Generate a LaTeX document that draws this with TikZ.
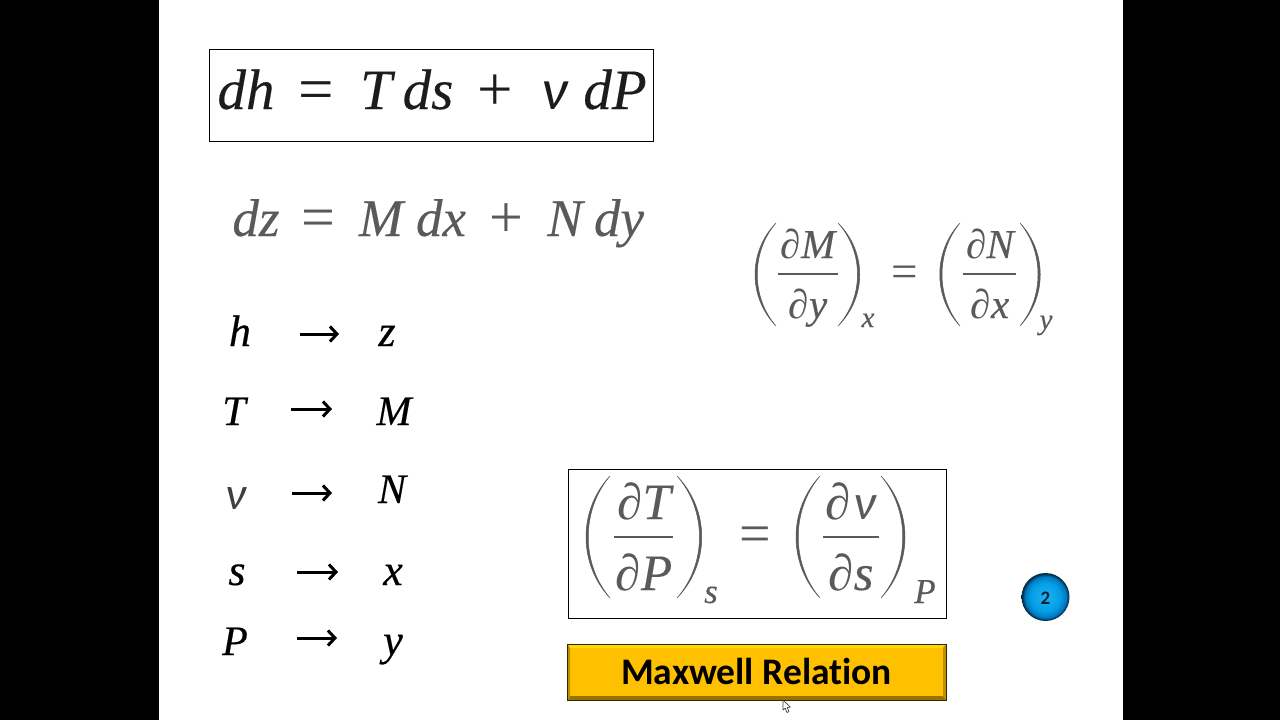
\documentclass[tikz,border=0pt]{standalone}
\usepackage{fontspec}
\setmainfont[ItalicFeatures={FakeBold=0.2}]{Liberation Serif}
\newfontfamily\listfont[FakeBold=0.35]{Liberation Serif}
\newfontfamily\nufont{Carlito}
\newfontfamily\btnfont[Ligatures=CommonOff]{Carlito}
\usetikzlibrary{arrows.meta,calc,shadings}
\definecolor{eqblack}{HTML}{1C1C1C}
\definecolor{eqgrey}{HTML}{5A5A5A}
\definecolor{gold}{HTML}{FFC000}
\definecolor{ballA}{HTML}{1FB0F2}
\definecolor{ballB}{HTML}{049FE6}
\definecolor{ballC}{HTML}{0078C0}
\definecolor{ballD}{HTML}{06304C}
\definecolor{ballText}{HTML}{0A2238}
\pgfdeclareradialshading{ballshade}{\pgfpoint{0bp}{0bp}}{
  color(0bp)=(ballA); color(15bp)=(ballB); color(21.5bp)=(ballC); color(24bp)=(ballD); color(50bp)=(ballD)}
\newcommand{\sz}[1]{\fontsize{#1}{#1}\selectfont}
\tikzset{
  tok/.style={anchor=base,inner sep=0pt,outer sep=0pt},
  eqa/.style={tok,text=eqblack,font=\sz{57}\itshape},
  eqb/.style={tok,text=eqgrey,font=\sz{53}\itshape},
  eqbup/.style={tok,text=eqgrey,font=\sz{60}},
  eqaup/.style={tok,text=eqblack,font=\sz{63}},
  frs/.style={tok,text=eqgrey,font=\sz{41}\itshape},
  frb/.style={tok,text=eqgrey,font=\sz{51}\itshape},
  subs/.style={tok,text=eqgrey,font=\sz{29}\itshape},
  subb/.style={tok,text=eqgrey,font=\sz{35}\itshape},
  rowtext/.style={tok,text=black,font=\sz{44}\listfont\itshape},
  rowcap/.style={tok,text=black,font=\sz{42}\listfont\itshape},
  nuglyph/.style={tok,font=\nufont\itshape},
  maparrow/.style={draw=black,line width=3pt,line cap=butt,-{Straight Barb[length=7pt,width=15pt]}},
  framebox/.style={draw=black,line width=1pt,fill=white},
  frule/.style={draw=eqgrey,line width=1.5pt},
  parenfill/.style={fill=eqgrey,draw=eqgrey,line width=0.5pt,line join=round},
}
% tapered parentheses: tip x, belly control x (left), tip x, belly control x (right), y top, y bottom
\newcommand{\parenpair}[6]{%
  \filldraw[parenfill] (#1,#5) .. controls (#2,{#5+0.28*(#6-#5)}) and (#2,{#5+0.72*(#6-#5)}) .. (#1,#6)
     .. controls ({#2+3},{#5+0.72*(#6-#5)}) and ({#2+3},{#5+0.28*(#6-#5)}) .. (#1,#5) -- cycle;
  \filldraw[parenfill] (#3,#5) .. controls (#4,{#5+0.28*(#6-#5)}) and (#4,{#5+0.72*(#6-#5)}) .. (#3,#6)
     .. controls ({#4-3},{#5+0.72*(#6-#5)}) and ({#4-3},{#5+0.28*(#6-#5)}) .. (#3,#5) -- cycle;}
\begin{document}
\begin{tikzpicture}[x=1pt,y=-1pt]
\useasboundingbox (0,0) rectangle (1280,720);
\fill[black] (0,0) rectangle (1280,720);
\fill[white] (158.5,0) rectangle (1123,720);

% top equation
\node[framebox,minimum width=444.5pt,minimum height=92pt,inner sep=0pt,anchor=north west] (topbox) at (208.5,48.8) {};
\node[eqa] (dh) at (246,109) {dh};
\node[eqaup] (eq1) at (316,110.5) {=};
\node[eqa] (T1) at (376,109) {T};
\node[eqa] (ds1) at (428,109) {ds};
\node[eqaup] (pl1) at (495,110.5) {+};
\node[nuglyph,text=eqblack,font=\sz{58}\nufont\itshape] (nu1) at (555,109) {ν};
\node[eqa] (dP1) at (615,109) {dP};

% second equation
\node[eqb] (dz) at (256,236) {dz};
\node[eqbup] (eq2) at (318,237.5) {=};
\node[eqb] (M2) at (381,236) {M};
\node[eqb] (dx2) at (441,236) {dx};
\node[eqbup] (pl2) at (506,237.5) {+};
\node[eqb] (N2) at (565,236) {N};
\node[eqb] (dy2) at (619,236) {dy};

% right upper relation
\parenpair{776}{748}{838}{867}{223}{326}
\node[frs] (dM) at (808,258) {\upshape∂\itshape M};
\draw[frule] (778,274) -- (838,274);
\node[frs] (dy3) at (808,318) {\upshape∂\itshape y};
\node[subs] (subx) at (868,327) {x};
\node[tok,text=eqgrey,font=\sz{47}] (eq3) at (905,287) {=};
\parenpair{960}{933}{1020}{1047}{223}{326}
\node[frs] (dN) at (990,258) {\upshape∂\itshape N};
\draw[frule] (963,274) -- (1016,274);
\node[frs] (dx3) at (990,318) {\upshape∂\itshape x};
\node[subs] (suby) at (1046,329) {y};

% mapping list
\node[rowtext] (h) at (240,346) {h};
\node[rowtext] (z) at (387,346) {z};
\node[rowcap] (T) at (234,425) {T};
\node[rowcap] (M) at (394,425) {M};
\node[nuglyph,text=eqgrey!70!black,font=\sz{46}\nufont\itshape] (nu) at (236,509) {ν};
\node[rowcap] (N) at (392,503) {N};
\node[rowtext] (s) at (237,585) {s};
\node[rowtext] (x) at (393,585) {x};
\node[rowcap] (P) at (235,655) {P};
\node[rowtext] (y) at (393,655) {y};
\draw[maparrow] ([shift={(60,-12)}]h.base) -- ([shift={(-48,-12)}]z.base);
\draw[maparrow] ([shift={(57,-16)}]T.base) -- ([shift={(-62,-16)}]M.base);
\draw[maparrow] ([shift={(56,-16)}]nu.base) -- ([shift={(-60,-10)}]N.base);
\draw[maparrow] ([shift={(60,-13)}]s.base) -- ([shift={(-55,-13)}]x.base);
\draw[maparrow] ([shift={(62,-17)}]P.base) -- ([shift={(-56,-17)}]y.base);

% boxed Maxwell relation
\node[framebox,minimum width=378pt,minimum height=149pt,inner sep=0pt,anchor=north west] (maxbox) at (568,469) {};
\parenpair{610}{578}{677}{710}{476}{598}
\node[frb] (dT) at (644,519) {\upshape∂\itshape T};
\draw[frule,line width=2pt] (614,537) -- (673,537);
\node[frb] (dP) at (644,590) {\upshape∂\itshape P};
\node[subb] (subs) at (711,603) {s};
\node[tok,text=eqgrey,font=\sz{56}] (eq4) at (755,552) {=};
\parenpair{820}{788}{881}{913}{476}{598}
\node[frb] (dpart) at (838,519) {\upshape∂};
\node[nuglyph,text=eqgrey,font=\sz{50}\nufont\itshape] (dnu) at (865,519) {ν};
\draw[frule,line width=2pt] (823,537) -- (879,537);
\node[frb] (ds4) at (851,590) {\upshape∂\itshape s};
\node[subb] (subP) at (925,603) {P};

% button
\fill[gold!70!yellow] (567.5,644) rectangle (946,700);
\fill[gold] (570,648) rectangle (943,696);
\fill[gold!60!yellow] (567.5,644) -- (946,644) -- (943,648) -- (570,648) -- cycle;
\fill[gold!60!black] (567.5,700) -- (946,700) -- (943,696) -- (570,696) -- cycle;
\fill[gold!75!black] (567.5,644) -- (570,648) -- (570,696) -- (567.5,700) -- cycle;
\fill[gold!75!black] (946,644) -- (943,648) -- (943,696) -- (946,700) -- cycle;
\draw[black!80!gold,line width=0.8pt] (567.5,644) rectangle (946,700);
\node[tok,text=black,font=\sz{37.5}\btnfont\bfseries] (btn) at (756.5,684) {Maxwell Relation};

% numbered ball
\shade[shading=ballshade] (1045.5,597) circle (24pt);
\node[tok,text=ballText,font=\sz{19}\btnfont\bfseries] (two) at (1045.5,604) {2};

% mouse cursor
\filldraw[fill=white,draw=black!75,line width=0.7pt,line join=round]
  (783,700) -- (783,710) -- (785.3,708.2) -- (787,712.5) -- (789,711.6) -- (787.3,707.5) -- (790.3,707.2) -- cycle;
\end{tikzpicture}
\end{document}
